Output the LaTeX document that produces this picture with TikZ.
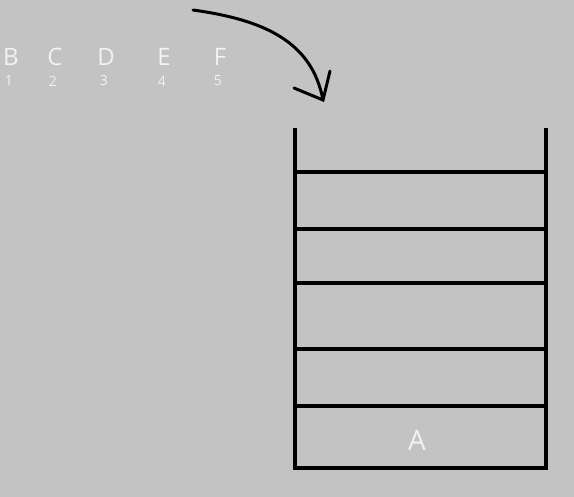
\documentclass[tikz,border=0pt]{standalone}
\usepackage{fontspec}
\setmainfont{Open Sans}
\definecolor{bg}{HTML}{C3C3C3}
\definecolor{txt}{HTML}{F2F2F2}

\begin{document}
\begin{tikzpicture}[x=1pt,y=-1pt,line width=4pt]
    \tikzstyle{letter}=[text=txt,font=\fontsize{24}{24}\selectfont,inner sep=0pt]
    \tikzstyle{index}=[text=txt,font=\fontsize{14}{14}\selectfont,inner sep=0pt]
    \tikzstyle{rung}=[draw=black]

    % Background
    \fill[bg] (0,0) rectangle (574,497);
    \useasboundingbox (0,0) rectangle (574,497);

    % Letters and their indices
    \foreach \name / \x / \i in {B/11/1,C/55/2,D/106/3,E/164/4,F/220/5}
    {
        \node[letter] (L-\name) at (\x,57) {\name};
        \node[index] (N-\name) at (\x-2,81) {\i};
    }

    % Draw the stack walls
    \coordinate (TL) at (295,128);
    \coordinate (BL) at (295,468);
    \coordinate (TR) at (546,128);
    \coordinate (BR) at (546,468);
    \draw (TL) -- (BL) -- (BR) -- (TR);

    % Draw the slot lines
    \foreach \y in {172,229,283,349,406}
        \draw[rung] (293,\y) -- (548,\y);

    \node[letter,font=\fontsize{28}{28}\selectfont] (A) at (417,440) {A};

    % The pushing arrow
    \coordinate (start) at (193,10);
    \coordinate (tip) at (323,100);
    \draw[line width=3pt,line cap=round] (start) .. controls (265,20) and (312,42) .. (tip);
    \draw[line width=3pt,line cap=round] (294,88) -- (tip) -- (330,71);
\end{tikzpicture}
\end{document}
